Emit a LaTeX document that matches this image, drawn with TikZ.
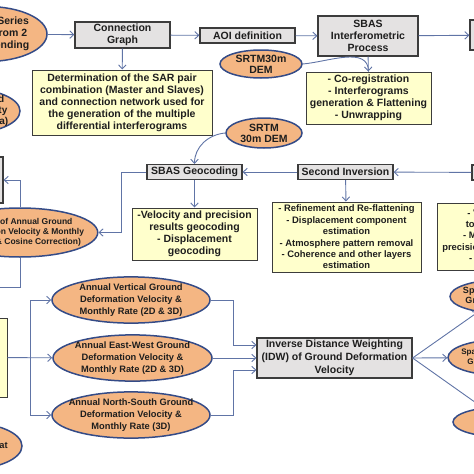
\documentclass[tikz,border=0pt]{standalone}
\usepackage{fontspec}
\setmainfont{Liberation Sans}
\usepackage{tikz}
\usetikzlibrary{shapes.geometric}
\usetikzlibrary{arrows.meta}

\definecolor{txt}{RGB}{30,30,30}
\definecolor{boxline}{RGB}{60,60,60}
\definecolor{boxgrey}{RGB}{228,226,226}
\definecolor{boxyellow}{RGB}{255,255,204}
\definecolor{ovalfill}{RGB}{244,182,131}
\definecolor{ovalline}{RGB}{52,75,135}
\definecolor{flowcol}{RGB}{96,116,166}

\begin{document}
\begin{tikzpicture}[x=1pt, y=1pt,
    greybox/.style={rectangle, draw=boxline, fill=boxgrey, line width=1.2pt, inner sep=1pt,
      align=center, text=txt, font=\fontsize{10.5}{12}\selectfont\bfseries},
    yelbox/.style={greybox, fill=boxyellow, line width=1pt},
    smallfont/.style={font=\fontsize{9.4}{11.4}\selectfont\bfseries},
    oval/.style={ellipse, draw=ovalline, fill=ovalfill, line width=1.5pt, inner xsep=-7pt,
      inner ysep=0pt, align=center, text=txt, font=\fontsize{9.3}{12}\selectfont\bfseries},
    flow/.style={draw=flowcol, line width=0.9pt, -{Straight Barb[length=4pt,width=7.5pt]}},
    link/.style={draw=flowcol, line width=0.9pt}]

    \useasboundingbox (0,0) rectangle (474,-474);
    \clip (0,0) rectangle (474,-474);

    % top row
    \node[oval, minimum width=120pt, minimum height=55pt, font=\fontsize{10.5}{12}\selectfont\bfseries]
        (imgs) at (-13, -34) {SAR Time Series\\Acquired from 2\\Asc./Descending};
    \node[greybox, minimum width=95pt, minimum height=26pt]  (conn) at (122.5, -35) {Connection\\Graph};
    \node[greybox, minimum width=95pt, minimum height=15pt]  (aoi) at (247.5, -35.5) {AOI definition};
    \node[greybox, minimum width=100pt, minimum height=40pt] (sbas) at (368, -36) {SBAS\\Interferometric\\Process};
    \node[greybox, minimum width=90pt, minimum height=30pt]  (nextTop) at (515, -35) {};

    \node[yelbox, minimum width=180pt, minimum height=65pt] (det) at (122, -102.5)
        {Determination of the SAR pair\\combination (Master and Slaves)\\and connection network used for\\the generation of the multiple\\differential interferograms};
    \node[oval, minimum width=82pt, minimum height=28pt, font=\fontsize{10.5}{11}\selectfont\bfseries]
        (srtmA) at (261, -64) {SRTM30m\\DEM};
    \node[yelbox, minimum width=125pt, minimum height=52pt] (proc) at (368.5, -98)
        {- Co-registration\\- Interferograms\\generation \& Flattening\\- Unwrapping};
    \node[oval, minimum width=102pt, minimum height=42pt, font=\fontsize{10}{11}\selectfont\bfseries]
        (valid) at (-31, -111) {GPS Measured\\Ground Velocity\\(Validation Data)};
    \node[oval, minimum width=76pt, minimum height=30pt, font=\fontsize{10.5}{11}\selectfont\bfseries]
        (srtmB) at (264, -133) {SRTM\\30m DEM};

    % geocoding row
    \node[greybox, minimum width=96pt, minimum height=46pt] (leftBox) at (-45, -180) {};
    \node[greybox, minimum width=95pt, minimum height=15pt] (geo) at (194.5, -172) {SBAS Geocoding};
    \node[greybox, minimum width=95pt, minimum height=15pt] (inv) at (345.5, -172) {Second Inversion};
    \node[greybox, minimum width=96pt, minimum height=15pt] (nextMid) at (520, -172.5) {};

    \node[yelbox, minimum width=125pt, minimum height=52pt] (vel) at (194.5, -234)
        {-Velocity and precision\\results geocoding\\- Displacement\\geocoding};
    \node[yelbox, smallfont, minimum width=149pt, minimum height=70pt] (refine) at (346.5, -237)
        {- Refinement and Re-flattening\\- Displacement component\\estimation\\- Atmosphere pattern removal\\- Coherence and other layers\\estimation};
    \node[yelbox, smallfont, minimum width=102pt, minimum height=67pt] (rightYel) at (488, -236.5)
        {- Velocity\\to vertical\\- Mean rate\\precision estimation\\- Quality};
    \node[oval, minimum width=154pt, minimum height=49pt, inner xsep=-9pt, font=\fontsize{8.5}{10}\selectfont\bfseries]
        (bigEll) at (20, -232.5) {Method of Annual Ground\\Deformation Velocity \& Monthly\\Rate (2D \& Cosine Correction)};

    % velocity components
    \node[yelbox, minimum width=94pt, minimum height=79pt] (leftYel) at (-40, -357.5) {};
    \coordinate (split) at (30, -358);
    \node[oval, minimum width=158pt, minimum height=46pt] (vert) at (131, -300)
        {Annual Vertical Ground\\Deformation Velocity \&\\Monthly Rate (2D \& 3D)};
    \node[oval, minimum width=159pt, minimum height=43pt] (ew) at (132.5, -358)
        {Annual East-West Ground\\Deformation Velocity \&\\Monthly Rate (2D \& 3D)};
    \node[oval, minimum width=158pt, minimum height=46pt] (ns) at (131, -415)
        {Annual North-South Ground\\Deformation Velocity \&\\Monthly Rate (3D)};
    \node[oval, minimum width=106pt, minimum height=36pt] (heat) at (-31, -446)
        {Ground\\Deformation Heat\\Map};

    \node[greybox, minimum width=155pt, minimum height=40pt, font=\fontsize{10.5}{13}\selectfont\bfseries]
        (idw) at (334.5, -358) {Inverse Distance Weighting\\(IDW) of Ground Deformation\\Velocity};
    \node[oval, minimum width=100pt, minimum height=33pt, font=\fontsize{9}{10}\selectfont\bfseries]
        (spA) at (500, -296.5) {Spatial Pattern of\\Ground Velocity};
    \node[oval, minimum width=100pt, minimum height=35pt, font=\fontsize{8}{10}\selectfont\bfseries]
        (spB) at (498, -357.5) {Spatial Distribution\\Ground Velocity};
    \node[oval, minimum width=100pt, minimum height=30pt] (spC) at (503, -422) {};

    % connectors
    \draw (imgs) edge[flow] (conn);
    \draw (conn) edge[flow] (aoi);
    \draw (aoi) edge[flow] (sbas);
    \draw (sbas) edge[flow] (nextTop);
    \draw (conn) edge[flow] (det);
    \draw (sbas) edge[flow] (proc);
    \draw[link] (srtmA.east) to[out=5, in=90] (proc.north);
    \draw[flow] (srtmB.west) to[out=185, in=90] (geo.north);

    \draw (nextMid) edge[flow] (inv);
    \draw (inv) edge[flow] (geo);
    \draw (inv) edge[flow] (refine);
    \draw (geo) edge[flow] (vel);
    \draw[flow] (geo.west) -- ++(-25,0) |- (bigEll.east);
    \draw[flow] (bigEll.north) |- (leftBox.east);
    \draw[flow] (bigEll.south) -- ++(0,-30) -| (leftYel.north);

    \draw (leftYel) edge[flow] (ew);
    \draw[flow] (split) |- (vert.west);
    \draw[flow] (split) |- (ns.west);
    \draw[flow] (vert.east) -- ++(23,0) |- ([yshift=13pt]idw.west);
    \draw (ew) edge[flow] (idw);
    \draw[flow] (ns.east) -- ++(23,0) |- ([yshift=-12pt]idw.west);
    \draw (idw.east) edge[flow] (spA);
    \draw (idw.east) edge[flow] (spB);
    \draw (idw.east) edge[flow] (spC);
\end{tikzpicture}
\end{document}
